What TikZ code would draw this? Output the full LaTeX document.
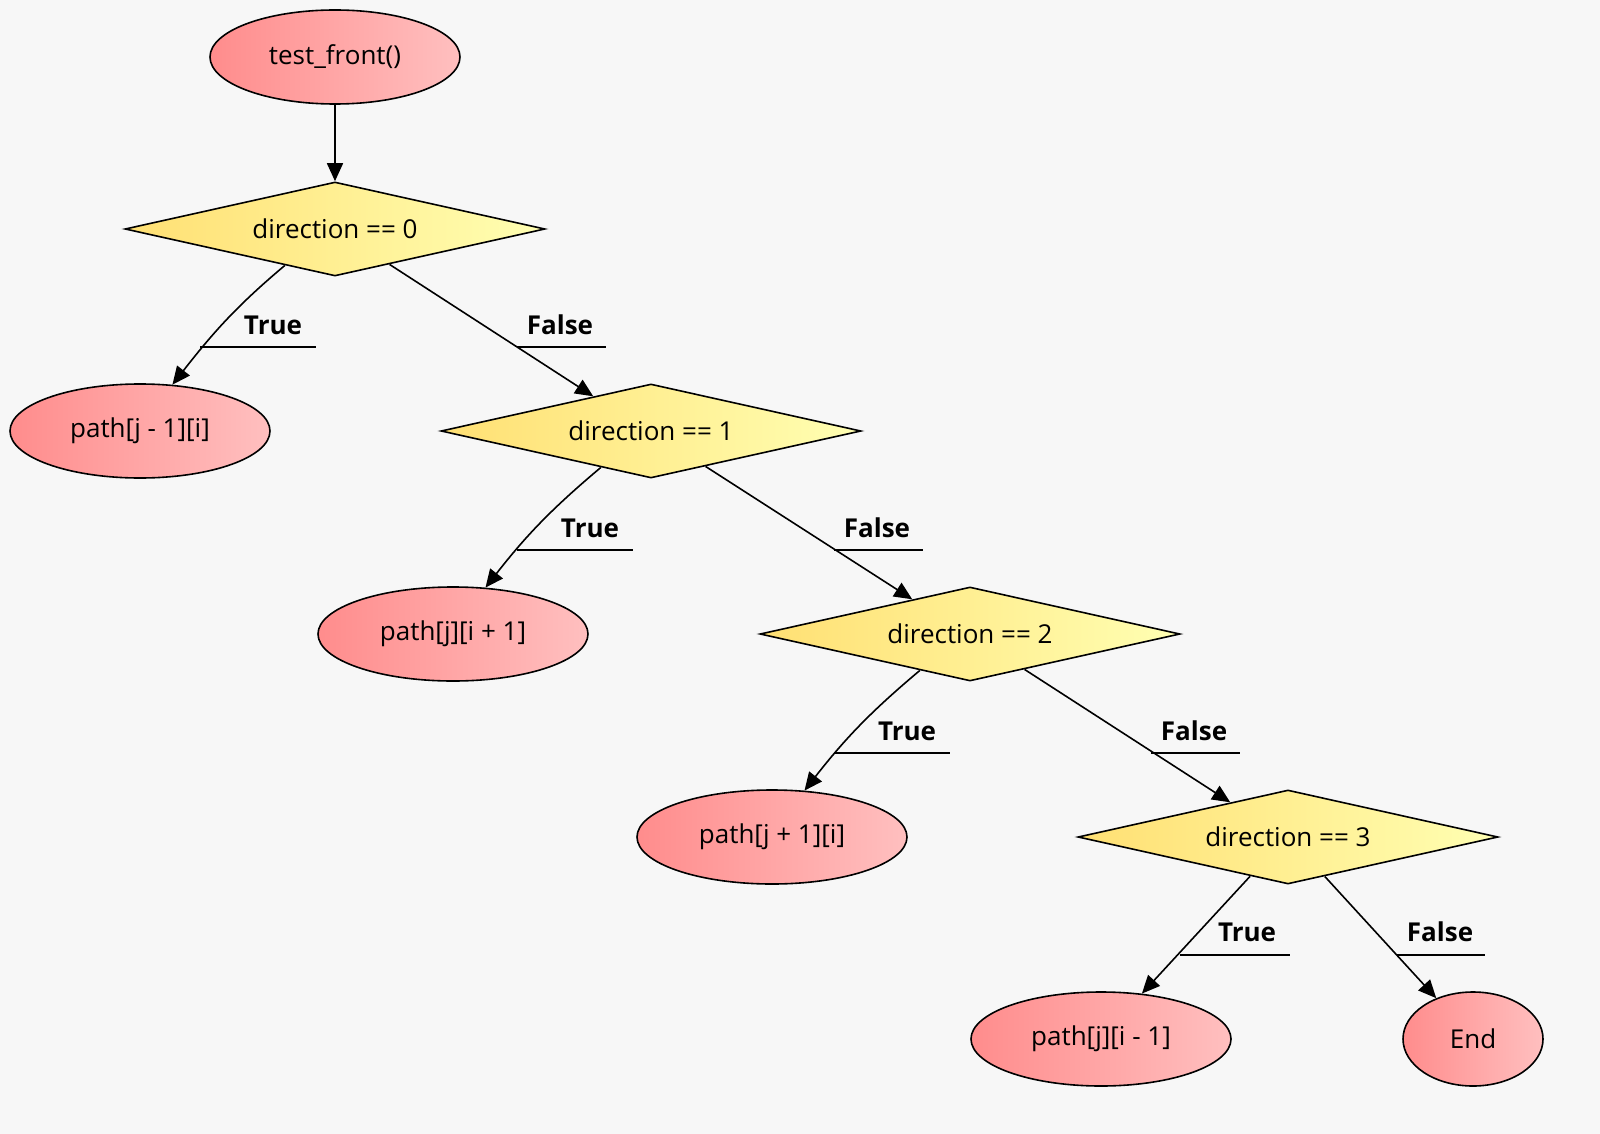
\documentclass[tikz,border=0pt]{standalone}
\usepackage{fontspec}
\setmainfont{Open Sans}
\usetikzlibrary{shapes.geometric,arrows.meta}
\definecolor{bg}{HTML}{F7F7F7}
\begin{document}
\begin{tikzpicture}[x=0.5pt,y=-0.5pt,
  every node/.style={font=\fontsize{13}{15}\selectfont},
  ell/.style={ellipse,draw,line width=0.8pt,left color=red!45!white,right color=red!25!white,minimum height=47pt,inner sep=0pt},
  dia/.style={diamond,draw,line width=0.8pt,left color=orange!45!yellow!55!white,right color=yellow!30!white,aspect=4.47,minimum width=210pt,minimum height=47pt,inner sep=0pt},
  arr/.style={draw,line width=0.8pt,-{Triangle[length=9pt,width=8pt]}},
  lab/.style={font=\fontsize{13}{15}\selectfont\bfseries},
  ul/.style={line width=0.8pt}]
\fill[bg] (0,0) rectangle (1600,1134);
\node[ell,minimum width=125pt] (s) at (335,57) {test\_front()};
\node[dia] (d0) at (335,229) {direction == 0};
\node[ell,minimum width=130pt] (p0) at (140,431) {path[j - 1][i]};
\node[dia] (d1) at (651,431) {direction == 1};
\node[ell,minimum width=135pt] (p1) at (453,634) {path[j][i + 1]};
\node[dia] (d2) at (970,634) {direction == 2};
\node[ell,minimum width=135pt] (p2) at (772,837) {path[j + 1][i]};
\node[dia] (d3) at (1288,837) {direction == 3};
\node[ell,minimum width=130pt] (p3) at (1101,1039) {path[j][i - 1]};
\node[ell,minimum width=70pt] (e) at (1473,1039) {End};
\draw[arr] (s) -- (d0);
\foreach \d/\p/\n/\k in {d0/p0/d1/0,d1/p1/d2/1,d2/p2/d3/2}{
  \draw[arr] (\d.216) to[out=-140,in=52] (\p.55);
  \draw[arr] (\d.327) -- (\n.149);
  \node[lab] at (273+317*\k,325+203*\k) {True};
  \draw[ul] (200+317*\k,347+203*\k) -- (316+317*\k,347+203*\k);
  \node[lab] at (560+317*\k,325+203*\k) {False};
  \draw[ul] (517+317*\k,347+203*\k) -- (606+317*\k,347+203*\k);
}
\draw[arr] (d3.226) -- (p3.48);
\draw[arr] (d3.313) -- (e.132);
\node[lab] at (1247,932) {True};
\draw[ul] (1180,955) -- (1290,955);
\node[lab] at (1440,932) {False};
\draw[ul] (1397,955) -- (1485,955);
\end{tikzpicture}
\end{document}
